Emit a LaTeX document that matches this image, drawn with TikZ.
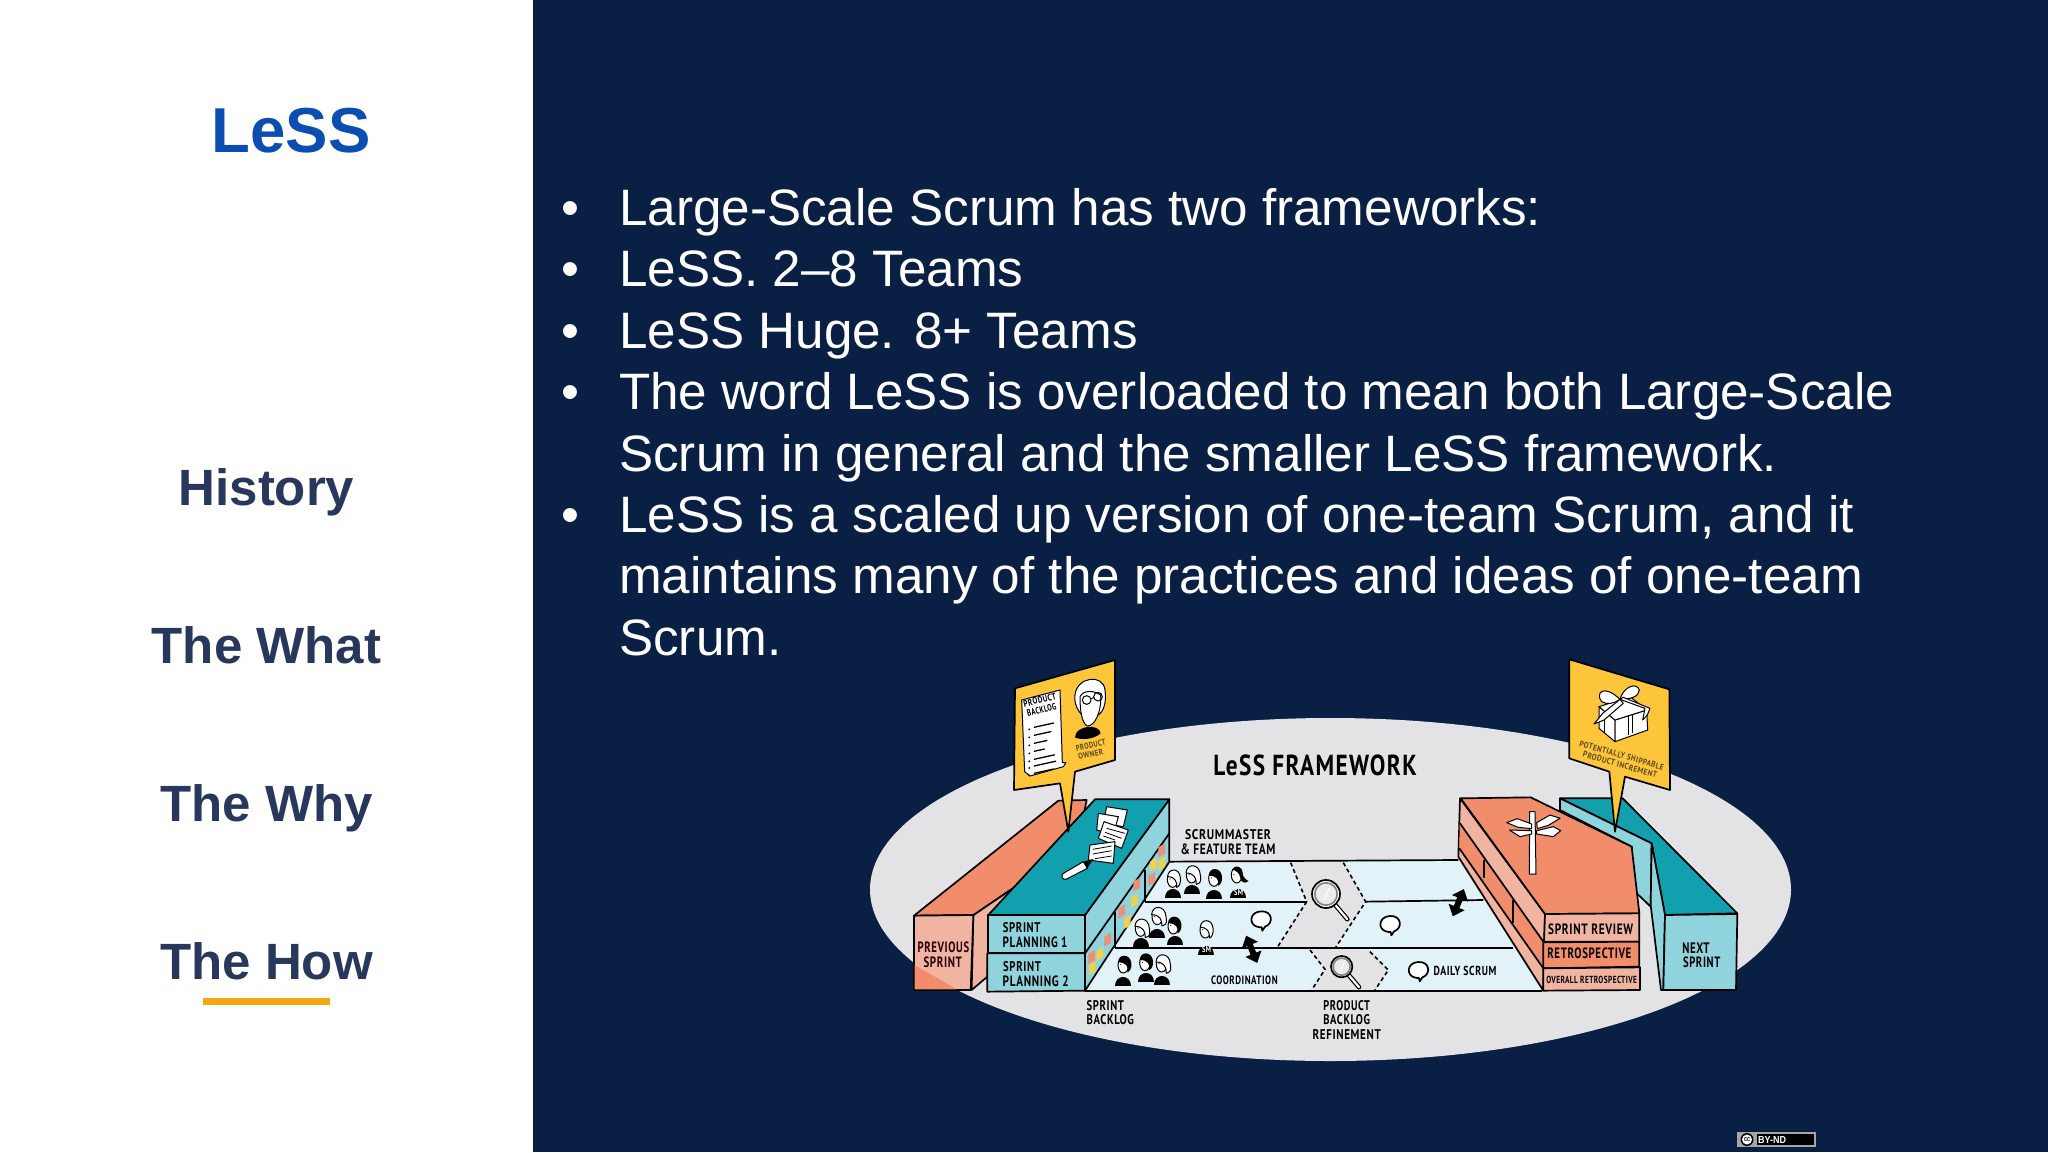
\documentclass[tikz,border=0pt]{standalone}
\usepackage{fontspec}
\usepackage{graphicx}
\setmainfont{Liberation Sans}
\newfontfamily\handfont{PT Sans}[BoldFont={PT Sans Bold},LetterSpace=6]
\definecolor{navy}{HTML}{0A1F44}
\definecolor{titleblue}{HTML}{0B4DB0}
\definecolor{menuink}{HTML}{28385C}
\definecolor{barorange}{HTML}{F5A70F}
\definecolor{ovalgrey}{HTML}{E3E3E6}
\definecolor{lane}{HTML}{E1F2F8}
\definecolor{salmon}{HTML}{F28D6B}
\definecolor{salmonlt}{HTML}{F1B4A1}
\definecolor{teal}{HTML}{12A0AF}
\definecolor{teallt}{HTML}{8FD3DC}
\definecolor{signyellow}{HTML}{FCC53A}
\definecolor{signink}{HTML}{5E4A1C}
\definecolor{noteyellow}{HTML}{F0D04F}
\definecolor{noteorange}{HTML}{EE8F78}
\tikzset{
  ink/.style={draw=black,line width=1.7pt,line join=round},
  thinink/.style={draw=black,line width=1pt,line join=round},
  dashline/.style={draw=black,line width=1.6pt,dash pattern=on 4pt off 3pt},
  menu/.style={font=\fontsize{51}{61}\selectfont\bfseries,text=menuink,anchor=base,inner sep=0},
  body/.style={font=\fontsize{51.2}{61}\selectfont,text=white,anchor=base west,inner sep=0},
}
\newcount\hlcount
\newlength\hlw
\newlength\hlh
\newcommand\hl[6][0]{%
  \global\advance\hlcount by 1
  \setlength{\hlw}{#4pt}\divide\hlw by 3
  \setlength{\hlh}{#5pt}\divide\hlh by 3
  \node[inner sep=0,rotate=#1] (hand\the\hlcount) at (#2,#3) {\resizebox{\hlw}{\hlh}{\handfont\bfseries #6}};}
% head at (#1,#2), body offset (#3,#4), #5 hair drawing
\newcommand\persona[5]{%
  \begin{scope}[shift={(#1,#2)}]
    \fill[black] (#3-24,#4+18) .. controls (#3-24,#4-18) and (#3+24,#4-18) .. (#3+24,#4+18) -- cycle;
    \draw[thinink,fill=white] (0,0) ellipse (16 and 24);
    #5
    \fill (-8,-1) circle (1.8);
  \end{scope}}
\newcommand\hairblack{\fill[black] (-15,-8) .. controls (-16,-34) and (20,-36) .. (24,-6) .. controls (26,12) and (18,20) .. (12,22) .. controls (16,4) and (8,-8) .. cycle;}
\newcommand\hairwhite{\draw[thinink,fill=white] (-15,-8) .. controls (-14,-34) and (20,-36) .. (23,-6) .. controls (25,10) and (20,22) .. (12,24) .. controls (14,6) and (6,-8) .. cycle;}
\newcommand\hairlong{\draw[thinink,fill=white] (-17,-6) .. controls (-16,-36) and (24,-36) .. (26,0) .. controls (28,14) and (30,24) .. (14,28) .. controls (14,10) and (8,-6) .. cycle;}
\newcommand\hairside{\fill[black] (-12,-16) .. controls (-4,-30) and (18,-28) .. (18,-4) .. controls (18,6) and (32,18) .. (36,18) .. controls (24,28) and (12,22) .. (10,6) .. controls (8,-6) and (0,-12) .. cycle;}
\newcommand\smtag[2]{\node[inner sep=0,text=white] (sm#1) at (#2) {\resizebox{9pt}{6pt}{\handfont\bfseries SM}};}
\newcommand\bubble[3]{%
  \begin{scope}[shift={(#1,#2)},scale=#3]
    \draw[ink,fill=white] (-12,22) .. controls (-36,16) and (-36,-22) .. (0,-24) .. controls (36,-26) and (38,14) .. (12,22) -- (4,34) -- (2,24) .. controls (-2,24) and (-8,24) .. (-12,22) -- cycle;
  \end{scope}}
\newcommand\lens[4]{%
  \draw[draw=black,line width=4.6pt,line cap=round] (#1,#2) -- ++(#4,#4*1.18);
  \draw[draw=white,line width=2.2pt,line cap=round] (#1,#2) -- ++(#4,#4*1.18);
  \draw[ink,fill=white] (#1,#2) circle (#3);
  \draw[draw=gray,line width=1.6pt,fill=ovalgrey!70!white] (#1,#2) circle (#3*0.8);
  \draw[draw=white,line width=1.2pt] (#1-#3*0.1,#2+#3*0.4) -- (#1+#3*0.3,#2-#3*0.6);}
\newcommand\dblarrow[3]{%
  \begin{scope}[shift={(#1,#2)},rotate=#3]
    \fill[black] (0,-44) -- (26,-14) -- (9,-14) -- (9,14) -- (26,14) -- (0,44) -- (-26,14) -- (-9,14) -- (-9,-14) -- (-26,-14) -- cycle;
  \end{scope}}
\begin{document}
\begin{tikzpicture}[x=1pt,y=-1pt]
\useasboundingbox (0,0) rectangle (2048,1152);
\fill[white] (0,0) rectangle (533,1152);
\fill[navy] (533,0) rectangle (2048,1152);
% left column
\node[font=\fontsize{63.5}{70}\selectfont\bfseries,text=titleblue,anchor=base,inner sep=0] (title) at (291,152) {LeSS};
\node[menu] (history) at (266.5,505.7) {History};
\node[menu] (what) at (266.5,663.7) {The What};
\node[menu] (why) at (266.5,821.7) {The Why};
\node[menu] (how) at (266.5,979.7) {The How};
\fill[barorange] (203,998) rectangle (330,1005);
% bullets
\node[body] (b1) at (561,225.4) {•};
\node[body] (b2) at (561,286.8) {•};
\node[body] (b3) at (561,348.2) {•};
\node[body] (b4) at (561,409.6) {•};
\node[body] (b5) at (561,532.4) {•};
\node[body] (l1) at (619,225.4) {Large-Scale Scrum has two frameworks:};
\node[body] (l2) at (619,286.8) {LeSS. 2–8 Teams};
\node[body] (l3) at (619,348.2) {LeSS Huge. 8+ Teams};
\node[body] (l4) at (619,409.6) {The word LeSS is overloaded to mean both Large-Scale};
\node[body] (l5) at (619,471) {Scrum in general and the smaller LeSS framework.};
\node[body] (l6) at (619,532.4) {LeSS is a scaled up version of one-team Scrum, and it};
\node[body] (l7) at (619,593.8) {maintains many of the practices and ideas of one-team};
\node[body] (l8) at (619,655.2) {Scrum.};
% oval
\fill[ovalgrey] (1330.5,889.5) ellipse (460.5 and 171.5);
% illustration, coordinates are those of a 3x crop with origin (850,640)
\begin{scope}[shift={(850,640)},x=0.33333pt,y=-0.33333pt]
  % lanes
  \fill[lane] (958,665) -- (1322,668) -- (1370,785) -- (1280,925) -- (1380,930) -- (1425,988) -- (1385,1052) -- (705,1052) -- cycle;
  \fill[lane] (1480,665) -- (1825,660) -- (2075,1052) -- (1575,1052) -- (1615,990) -- (1560,930) -- (1455,925) -- (1547,785) -- cycle;
  \draw[dashline] (1322,668) -- (1370,785) -- (1280,925);
  \draw[dashline] (1480,668) -- (1547,785) -- (1455,925);
  \draw[dashline] (1380,930) -- (1425,988) -- (1385,1050);
  \draw[dashline] (1560,935) -- (1615,990) -- (1575,1050);
  \draw[ink] (958,665) -- (1825,660);
  \draw[ink] (885,785) -- (1370,785);
  \draw[ink] (1547,785) -- (1900,780);
  \draw[ink] (795,925) -- (1990,925);
  \draw[ink] (705,1052) -- (2075,1052);
  % previous sprint
  \draw[ink,fill=salmonlt] (370,825) -- (665,625) -- (708,482) -- (670,630) -- (420,820) -- (412,1010) -- (365,1050) -- cycle;
  \draw[ink,fill=salmon] (192,827) -- (625,482) -- (710,480) -- (700,530) -- (665,625) -- (370,825) -- cycle;
  \draw[ink,fill=salmonlt] (192,827) -- (370,825) -- (362,1050) -- (192,1050) -- cycle;
  \fill[salmon] (194,975) -- (320,1048) -- (194,1048) -- cycle;
  \hl{280}{921}{155}{32}{\color{black!85!red}PREVIOUS}
  \hl{278}{966}{115}{32}{\color{black!85!red}SPRINT}
  % sprint planning block
  \draw[ink,fill=teallt] (705,825) -- (958,478) -- (958,665) -- (705,1052) -- cycle;
  \draw[ink,fill=teal] (415,825) -- (735,478) -- (958,478) -- (705,825) -- cycle;
  \draw[ink,fill=teallt] (415,825) -- (705,825) -- (705,938) -- (415,938) -- cycle;
  \draw[ink,fill=teallt] (412,940) -- (705,940) -- (705,1052) -- (412,1055) -- cycle;
  \draw[ink] (705,940) -- (958,580);
  \draw[ink] (795,815) -- (795,925);
  \draw[ink] (885,690) -- (885,785);
  \foreach \nx/\ny/\nc in {727/985/noteyellow,725/952/noteorange,750/943/noteyellow,773/900/noteorange,815/815/noteorange,832/847/noteyellow,853/783/noteyellow,860/735/noteorange,905/718/noteorange,910/675/noteyellow,935/632/noteorange,935/672/noteyellow}
    \fill[\nc] (\nx-10,\ny-10) -- (\nx+10,\ny-22) -- (\nx+10,\ny+8) -- (\nx-10,\ny+20) -- cycle;
  \hl{515}{864}{113}{30}{SPRINT}
  \hl{555}{907}{195}{32}{PLANNING 1}
  \hl{516}{980}{113}{30}{SPRINT}
  \hl{557}{1024}{198}{32}{PLANNING 2}
  % papers and marker on the block
  \draw[thinink,fill=white] (770,500) -- (832,510) -- (820,560) -- (760,550) -- cycle;
  \draw[thinink,fill=white] (745,520) -- (805,530) -- (790,585) -- (740,570) -- cycle;
  \draw[thinink,fill=white] (762,545) -- (835,570) -- (815,625) -- (745,595) -- cycle;
  \draw[thinink,fill=white] (720,615) -- (795,605) -- (790,670) -- (715,660) -- cycle;
  \foreach \sa/\sb/\sc/\sd in {770/565/825/580,765/577/815/595,760/588/795/600,728/628/785/618,728/642/785/632,735/656/785/648}
    \draw[draw=black,line width=0.8pt] (\sa,\sb) -- (\sc,\sd);
  \draw[thinink,fill=white] (640,700) -- (700,665) -- (712,685) -- (648,718) .. controls (636,720) and (632,706) .. (640,700) -- cycle;
  \fill[black] (700,665) -- (730,657) -- (712,685) -- cycle;
  % people
  \persona{968}{718}{0}{38}{\hairwhite}
  \persona{1025}{705}{0}{38}{\hairlong}
  \persona{1092}{715}{0}{44}{\hairblack}
  \persona{1160}{705}{5}{50}{\hairside}
  \smtag{a}{1166,757}
  \persona{872}{865}{0}{38}{\hairlong}
  \persona{922}{830}{0}{46}{\hairlong}
  \persona{970}{858}{5}{38}{\hairblack}
  \persona{1066}{870}{3}{58}{\hairwhite}
  \smtag{b}{1070,930}
  \persona{820}{975}{0}{44}{\hairblack}
  \persona{885}{968}{2}{40}{\hairblack}
  \persona{935}{972}{0}{44}{\hairlong}
  \bubble{1233}{838}{1}
  \bubble{1620}{852}{1}
  \bubble{1705}{990}{1}
  \dblarrow{1205}{928}{22}
  \dblarrow{1825}{788}{-22}
  \lens{1428}{762}{42}{64}
  \lens{1475}{980}{32}{52}
  % lane labels
  \hl{1395}{375}{610}{62}{LeSS FRAMEWORK}
  \hl{1134}{583}{258}{30}{SCRUMMASTER}
  \hl{1134}{628}{285}{32}{\& FEATURE TEAM}
  \hl{1183}{1020}{200}{26}{COORDINATION}
  \hl{766}{1097}{112}{30}{SPRINT}
  \hl{781}{1140}{142}{30}{BACKLOG}
  \hl{1490}{1097}{140}{30}{PRODUCT}
  \hl{1490}{1140}{140}{30}{BACKLOG}
  \hl{1490}{1184}{205}{30}{REFINEMENT}
  \hl{1845}{992}{188}{28}{DAILY SCRUM}
  % next sprint
  \draw[ink,fill=teal] (2130,475) -- (2318,475) -- (2662,820) -- (2445,825) -- (2405,610) -- cycle;
  \draw[ink,fill=teallt] (2130,475) -- (2405,610) -- (2402,800) -- (2350,750) -- (2345,620) -- (2130,510) -- cycle;
  \draw[ink,fill=teallt] (2405,610) -- (2445,825) -- (2440,1050) -- (2433,1050) -- (2402,795) -- cycle;
  \draw[ink,fill=teallt] (2445,825) -- (2662,822) -- (2658,1050) -- (2440,1050) -- cycle;
  \hl{2538}{925}{82}{32}{NEXT}
  \hl{2555}{967}{112}{32}{SPRINT}
  % sprint review block
  \draw[ink,fill=salmonlt] (1830,475) -- (2085,822) -- (2080,1052) -- (1825,650) -- cycle;
  \fill[salmon] (1829,552) -- (2082,905) -- (2081,985) -- (1828,627) -- cycle;
  \draw[ink] (1830,550) -- (2080,905);
  \draw[ink] (1828,625) -- (2080,985);
  \draw[ink] (1902,660) -- (1902,715);
  \draw[ink] (1990,780) -- (1990,850);
  \draw[ink,fill=salmon] (1832,475) -- (2042,472) -- (2345,620) -- (2368,820) -- (2085,822) -- cycle;
  \draw[ink,fill=salmonlt] (2085,822) -- (2368,820) -- (2368,905) -- (2082,905) -- cycle;
  \draw[ink,fill=salmon] (2080,907) -- (2368,905) -- (2368,980) -- (2080,985) -- cycle;
  \draw[ink,fill=salmonlt] (2080,985) -- (2370,982) -- (2370,1050) -- (2080,1052) -- cycle;
  \hl{2222}{867}{255}{32}{SPRINT REVIEW}
  \hl{2218}{941}{252}{32}{RETROSPECTIVE}
  \hl{2225}{1019}{272}{22}{OVERALL RETROSPECTIVE}
  % signpost
  \draw[thinink,fill=white] (2039,515) -- (2055,515) -- (2058,702) -- (2038,702) -- cycle;
  \draw[thinink,fill=white] (1970,548) -- (2002,536) -- (2045,552) -- (2045,566) -- (2005,562) -- cycle;
  \draw[thinink,fill=white] (1978,570) -- (2045,572) -- (2045,582) -- (2010,590) -- cycle;
  \draw[thinink,fill=white] (2060,548) -- (2100,525) -- (2130,535) -- (2095,556) -- (2062,566) -- cycle;
  \draw[thinink,fill=white] (2060,572) -- (2110,560) -- (2132,572) -- (2110,590) -- (2060,582) -- cycle;
  % left callout
  \draw[ink,fill=signyellow] (495,145) -- (795,60) -- (795,360) -- (675,395) -- (655,575) -- (630,430) -- (492,450) -- cycle;
  \draw[thinink,fill=white] (515,180) -- (630,150) -- (637,368) -- (648,368) -- (640,380) -- (540,408) -- (524,395) -- cycle;
  \hl[14]{569}{180}{100}{20}{PRODUCT}
  \hl[14]{575}{210}{90}{20}{BACKLOG}
  \foreach \dy/\dl in {0/60,24/52,48/40,72/32,96/62,116/66,138/60}
    {\fill[black] (538,{268+\dy}) circle (3);
     \draw[draw=black,line width=1.3pt] (552,{262+\dy}) -- ++(\dl,{-\dl*0.22});}
  \fill[black] (675,292) .. controls (675,255) and (750,250) .. (752,280) .. controls (730,300) and (690,300) .. (675,292) -- cycle;
  \draw[thinink,fill=white] (675,165) .. controls (680,110) and (760,100) .. (765,150) .. controls (770,190) and (760,215) .. (745,225) -- (730,225) -- (712,235) .. controls (695,230) and (670,200) .. (675,165) -- cycle;
  \draw[thinink,fill=white] (690,170) .. controls (700,150) and (730,150) .. (752,165) .. controls (755,215) and (735,258) .. (712,258) .. controls (695,250) and (690,210) .. (690,170) -- cycle;
  \draw[thinink] (710,180) circle (13);
  \draw[thinink] (744,170) circle (13);
  \draw[thinink] (723,176) -- (731,173);
  \hl[12]{722}{315}{90}{18}{\color{signink}PRODUCT}
  \hl[12]{722}{342}{76}{18}{\color{signink}OWNER}
  % right callout
  \draw[ink,fill=signyellow] (2158,58) -- (2458,148) -- (2460,450) -- (2325,410) -- (2295,575) -- (2278,395) -- (2158,355) -- cycle;
  \draw[thinink,fill=white] (2247,200) -- (2295,240) -- (2295,305) -- (2247,265) -- cycle;
  \draw[thinink,fill=white] (2295,240) -- (2390,210) -- (2393,270) -- (2295,305) -- cycle;
  \draw[thinink,fill=white] (2247,200) -- (2340,170) -- (2390,210) -- (2295,240) -- cycle;
  \draw[thinink] (2262,212) -- (2262,278);
  \draw[thinink] (2335,226) -- (2335,285);
  \draw[thinink] (2348,222) -- (2348,280);
  \draw[thinink,fill=white] (2310,178) .. controls (2260,130) and (2235,160) .. (2255,185) .. controls (2270,195) and (2295,190) .. (2310,178) -- cycle;
  \draw[thinink,fill=white] (2310,178) .. controls (2320,140) and (2360,125) .. (2368,150) .. controls (2368,170) and (2340,178) .. (2310,178) -- cycle;
  \draw[thinink,fill=white] (2310,178) -- (2258,220) -- (2232,252) -- (2262,240) -- (2320,190) -- cycle;
  \draw[thinink,fill=white] (2310,178) -- (2385,205) -- (2378,240) -- (2392,225) -- (2400,205) -- (2320,172) -- cycle;
  \hl[-16]{2315}{346}{262}{18}{\color{signink}POTENTIALLY SHIPPABLE}
  \hl[-16]{2310}{374}{230}{18}{\color{signink}PRODUCT INCREMENT}
\end{scope}
% licence badge
\fill[black!35] (1737,1132) rectangle (1816,1147);
\fill[black] (1757,1134) rectangle (1814,1145);
\fill[black] (1747,1139.5) circle (6.5);
\fill[white] (1747,1139.5) circle (5);
\node[inner sep=0,text=black] (cc) at (1747,1139.5) {\resizebox{6pt}{4pt}{\bfseries cc}};
\node[inner sep=0,text=white] (byline) at (1772,1139.5) {\resizebox{28pt}{7pt}{\bfseries BY-ND}};
\end{tikzpicture}
\end{document}
